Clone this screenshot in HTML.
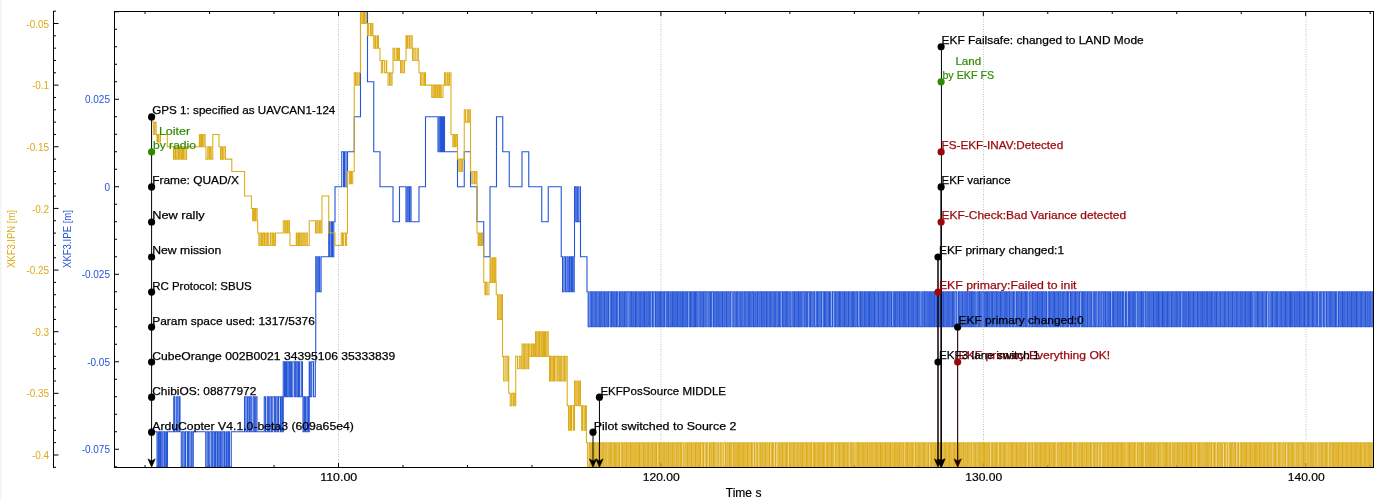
<!DOCTYPE html><html><head><meta charset="utf-8"><title>Graph</title>
<style>html,body{margin:0;padding:0;background:#fff;}body{width:1380px;height:500px;overflow:hidden;position:relative;font-family:"Liberation Sans","DejaVu Sans",sans-serif;}svg{position:absolute;left:0;top:0;display:block}text{font-family:"Liberation Sans","DejaVu Sans",sans-serif;}</style></head><body>
<svg width="1380" height="500" viewBox="0 0 1380 500">
<rect x="0" y="0" width="1380" height="500" fill="#ffffff"/>
<rect x="0" y="0" width="1.5" height="500" fill="#f3f3f3"/>
<defs><clipPath id="cp"><rect x="115.0" y="12.0" width="1258.0" height="455.0"/></clipPath></defs>
<line x1="338.5" y1="11.5" x2="338.5" y2="467.5" stroke="#b0b0b0" stroke-width="1" stroke-dasharray="0.8 1.7"/>
<line x1="661.0" y1="11.5" x2="661.0" y2="467.5" stroke="#b0b0b0" stroke-width="1" stroke-dasharray="0.8 1.7"/>
<line x1="983.5" y1="11.5" x2="983.5" y2="467.5" stroke="#b0b0b0" stroke-width="1" stroke-dasharray="0.8 1.7"/>
<line x1="1306.0" y1="11.5" x2="1306.0" y2="467.5" stroke="#b0b0b0" stroke-width="1" stroke-dasharray="0.8 1.7"/>
<g stroke="#000" stroke-width="1" fill="none">
<rect x="114.5" y="11.5" width="1259.0" height="456.0"/>
<line x1="53.5" y1="11.0" x2="53.5" y2="468.0"/>
<line x1="53.5" y1="467.31" x2="56.0" y2="467.31"/>
<line x1="53.5" y1="454.98" x2="58.5" y2="454.98"/>
<line x1="53.5" y1="442.65" x2="56.0" y2="442.65"/>
<line x1="53.5" y1="430.32" x2="56.0" y2="430.32"/>
<line x1="53.5" y1="418.00" x2="56.0" y2="418.00"/>
<line x1="53.5" y1="405.67" x2="56.0" y2="405.67"/>
<line x1="53.5" y1="393.34" x2="58.5" y2="393.34"/>
<line x1="53.5" y1="381.01" x2="56.0" y2="381.01"/>
<line x1="53.5" y1="368.68" x2="56.0" y2="368.68"/>
<line x1="53.5" y1="356.36" x2="56.0" y2="356.36"/>
<line x1="53.5" y1="344.03" x2="56.0" y2="344.03"/>
<line x1="53.5" y1="331.70" x2="58.5" y2="331.70"/>
<line x1="53.5" y1="319.37" x2="56.0" y2="319.37"/>
<line x1="53.5" y1="307.04" x2="56.0" y2="307.04"/>
<line x1="53.5" y1="294.72" x2="56.0" y2="294.72"/>
<line x1="53.5" y1="282.39" x2="56.0" y2="282.39"/>
<line x1="53.5" y1="270.06" x2="58.5" y2="270.06"/>
<line x1="53.5" y1="257.73" x2="56.0" y2="257.73"/>
<line x1="53.5" y1="245.40" x2="56.0" y2="245.40"/>
<line x1="53.5" y1="233.08" x2="56.0" y2="233.08"/>
<line x1="53.5" y1="220.75" x2="56.0" y2="220.75"/>
<line x1="53.5" y1="208.42" x2="58.5" y2="208.42"/>
<line x1="53.5" y1="196.09" x2="56.0" y2="196.09"/>
<line x1="53.5" y1="183.76" x2="56.0" y2="183.76"/>
<line x1="53.5" y1="171.44" x2="56.0" y2="171.44"/>
<line x1="53.5" y1="159.11" x2="56.0" y2="159.11"/>
<line x1="53.5" y1="146.78" x2="58.5" y2="146.78"/>
<line x1="53.5" y1="134.45" x2="56.0" y2="134.45"/>
<line x1="53.5" y1="122.12" x2="56.0" y2="122.12"/>
<line x1="53.5" y1="109.80" x2="56.0" y2="109.80"/>
<line x1="53.5" y1="97.47" x2="56.0" y2="97.47"/>
<line x1="53.5" y1="85.14" x2="58.5" y2="85.14"/>
<line x1="53.5" y1="72.81" x2="56.0" y2="72.81"/>
<line x1="53.5" y1="60.48" x2="56.0" y2="60.48"/>
<line x1="53.5" y1="48.16" x2="56.0" y2="48.16"/>
<line x1="53.5" y1="35.83" x2="56.0" y2="35.83"/>
<line x1="53.5" y1="23.50" x2="58.5" y2="23.50"/>
<line x1="53.5" y1="11.17" x2="56.0" y2="11.17"/>
<line x1="114.5" y1="466.75" x2="117.0" y2="466.75"/>
<line x1="114.5" y1="449.25" x2="119.0" y2="449.25"/>
<line x1="114.5" y1="431.75" x2="117.0" y2="431.75"/>
<line x1="114.5" y1="414.25" x2="117.0" y2="414.25"/>
<line x1="114.5" y1="396.75" x2="117.0" y2="396.75"/>
<line x1="114.5" y1="379.25" x2="117.0" y2="379.25"/>
<line x1="114.5" y1="361.75" x2="119.0" y2="361.75"/>
<line x1="114.5" y1="344.25" x2="117.0" y2="344.25"/>
<line x1="114.5" y1="326.75" x2="117.0" y2="326.75"/>
<line x1="114.5" y1="309.25" x2="117.0" y2="309.25"/>
<line x1="114.5" y1="291.75" x2="117.0" y2="291.75"/>
<line x1="114.5" y1="274.25" x2="119.0" y2="274.25"/>
<line x1="114.5" y1="256.75" x2="117.0" y2="256.75"/>
<line x1="114.5" y1="239.25" x2="117.0" y2="239.25"/>
<line x1="114.5" y1="221.75" x2="117.0" y2="221.75"/>
<line x1="114.5" y1="204.25" x2="117.0" y2="204.25"/>
<line x1="114.5" y1="186.75" x2="119.0" y2="186.75"/>
<line x1="114.5" y1="169.25" x2="117.0" y2="169.25"/>
<line x1="114.5" y1="151.75" x2="117.0" y2="151.75"/>
<line x1="114.5" y1="134.25" x2="117.0" y2="134.25"/>
<line x1="114.5" y1="116.75" x2="117.0" y2="116.75"/>
<line x1="114.5" y1="99.25" x2="119.0" y2="99.25"/>
<line x1="114.5" y1="81.75" x2="117.0" y2="81.75"/>
<line x1="114.5" y1="64.25" x2="117.0" y2="64.25"/>
<line x1="114.5" y1="46.75" x2="117.0" y2="46.75"/>
<line x1="114.5" y1="29.25" x2="117.0" y2="29.25"/>
<line x1="114.5" y1="11.75" x2="119.0" y2="11.75"/>
<line x1="145.06" y1="467.5" x2="145.06" y2="465.0"/>
<line x1="145.06" y1="11.5" x2="145.06" y2="14.0"/>
<line x1="209.54" y1="467.5" x2="209.54" y2="465.0"/>
<line x1="209.54" y1="11.5" x2="209.54" y2="14.0"/>
<line x1="274.02" y1="467.5" x2="274.02" y2="465.0"/>
<line x1="274.02" y1="11.5" x2="274.02" y2="14.0"/>
<line x1="338.50" y1="467.5" x2="338.50" y2="463.0"/>
<line x1="338.50" y1="11.5" x2="338.50" y2="16.0"/>
<line x1="402.98" y1="467.5" x2="402.98" y2="465.0"/>
<line x1="402.98" y1="11.5" x2="402.98" y2="14.0"/>
<line x1="467.46" y1="467.5" x2="467.46" y2="465.0"/>
<line x1="467.46" y1="11.5" x2="467.46" y2="14.0"/>
<line x1="531.94" y1="467.5" x2="531.94" y2="465.0"/>
<line x1="531.94" y1="11.5" x2="531.94" y2="14.0"/>
<line x1="596.42" y1="467.5" x2="596.42" y2="465.0"/>
<line x1="596.42" y1="11.5" x2="596.42" y2="14.0"/>
<line x1="660.90" y1="467.5" x2="660.90" y2="463.0"/>
<line x1="660.90" y1="11.5" x2="660.90" y2="16.0"/>
<line x1="725.38" y1="467.5" x2="725.38" y2="465.0"/>
<line x1="725.38" y1="11.5" x2="725.38" y2="14.0"/>
<line x1="789.86" y1="467.5" x2="789.86" y2="465.0"/>
<line x1="789.86" y1="11.5" x2="789.86" y2="14.0"/>
<line x1="854.34" y1="467.5" x2="854.34" y2="465.0"/>
<line x1="854.34" y1="11.5" x2="854.34" y2="14.0"/>
<line x1="918.82" y1="467.5" x2="918.82" y2="465.0"/>
<line x1="918.82" y1="11.5" x2="918.82" y2="14.0"/>
<line x1="983.30" y1="467.5" x2="983.30" y2="463.0"/>
<line x1="983.30" y1="11.5" x2="983.30" y2="16.0"/>
<line x1="1047.78" y1="467.5" x2="1047.78" y2="465.0"/>
<line x1="1047.78" y1="11.5" x2="1047.78" y2="14.0"/>
<line x1="1112.26" y1="467.5" x2="1112.26" y2="465.0"/>
<line x1="1112.26" y1="11.5" x2="1112.26" y2="14.0"/>
<line x1="1176.74" y1="467.5" x2="1176.74" y2="465.0"/>
<line x1="1176.74" y1="11.5" x2="1176.74" y2="14.0"/>
<line x1="1241.22" y1="467.5" x2="1241.22" y2="465.0"/>
<line x1="1241.22" y1="11.5" x2="1241.22" y2="14.0"/>
<line x1="1305.70" y1="467.5" x2="1305.70" y2="463.0"/>
<line x1="1305.70" y1="11.5" x2="1305.70" y2="16.0"/>
<line x1="1370.18" y1="467.5" x2="1370.18" y2="465.0"/>
<line x1="1370.18" y1="11.5" x2="1370.18" y2="14.0"/>
</g>
<g clip-path="url(#cp)" fill="none" stroke-linejoin="miter" stroke-width="1.1">
<rect x="587.3" y="291.75" width="800" height="35.00" fill="#2454d7" stroke="none" opacity="0.2"/>
<rect x="586.8" y="442.65" width="800" height="24.66" fill="#dcab16" stroke="none" opacity="0.2"/>
<path d="M152.00 431.75H157.00V466.75H158.29V431.75H159.29V466.75H160.44V431.75H161.73V466.75H163.02V431.75H164.47V466.75H165.76V431.75H166.76V466.75H167.50V431.75H173.75V396.75H174.90V431.75H176.70V396.75H177.99V431.75H179.44V396.75H180.00V431.75H181.29V466.75H182.74V431.75H184.19V466.75H185.48V431.75H187.28V466.75H188.43V431.75H189.88V466.75H191.33V431.75H192.78V466.75H193.25V431.75H205.75V466.75H207.20V431.75H208.65V466.75H209.94V431.75H211.74V466.75H212.89V431.75H214.34V466.75H215.49V431.75H216.94V466.75H217.94V431.75H219.23V466.75H220.52V431.75H221.81V466.75H223.10V431.75H224.55V466.75H226.00V431.75H227.00V466.75H228.29V431.75H229.44V466.75H231.24V431.75H232.00H244.50V396.75H245.95V431.75H247.40V396.75H248.85V431.75H250.00V396.75H251.29V431.75H253.09V396.75H254.38V431.75H255.67V396.75H256.96V431.75H257.50H264.25V396.75H265.54V431.75H267.34V396.75H268.63V431.75H269.92V396.75H271.37V431.75H272.82V396.75H274.62V431.75H275.77V396.75H277.22V431.75H278.51V396.75H280.31V431.75H281.31V396.75H282.60V431.75H283.25V361.75H284.54V396.75H285.54V361.75H286.54V396.75H287.83V361.75H289.12V396.75H290.27V361.75H291.42V396.75H292.87V361.75H294.67V396.75H295.82V361.75H297.11V396.75H298.40V361.75H299.40V396.75H301.20V361.75H302.49V396.75H303.00V431.75H304.29V396.75H305.44V431.75H306.89V396.75H308.18V431.75H309.25V361.75H310.25V396.75H311.70V361.75H313.50V396.75H315.30V361.75H315.75V256.75H317.04V291.75H318.33V256.75H319.62V291.75H321.07V256.75H322.00H328.75V221.75H329.90V256.75H331.35V221.75H332.50V256.75H333.79V221.75H335.00V186.75H341.75V151.75H343.55V186.75H344.55V151.75H346.00V186.75H347.50V151.75H354.25V116.75H360.50V-23.25H367.50V81.75H373.75V151.75H380.00V186.75H393.00V221.75H399.50V186.75H406.00V221.75H407.29V186.75H408.74V221.75H409.74V186.75H411.03V221.75H412.50H419.00V186.75H425.50V116.75H438.00V151.75H439.29V116.75H440.58V151.75H441.58V116.75H442.58V151.75H443.58V116.75H444.50V151.75H457.50V186.75H464.25V151.75H470.50V186.75H477.00V221.75H483.75V256.75H490.00V186.75H496.50V116.75H502.75V151.75H509.25V186.75H522.00V151.75H528.75V186.75H541.75V221.75H548.25V186.75H561.25V256.75H562.54V291.75H563.99V256.75H565.44V291.75H566.89V256.75H568.18V291.75H569.47V256.75H570.76V291.75H571.76V256.75H572.91V291.75H574.20V256.75H574.50V186.75H575.79V221.75H577.08V186.75H578.23V221.75H580.03V186.75H580.50V256.75H587.00V291.75H588.28V326.75H590.04V291.75H591.38V326.75H592.69V291.75H594.03V326.75H595.35V291.75H596.69V326.75H598.06V291.75H599.37V326.75H600.66V291.75H601.90V326.75H603.22V291.75H604.54V326.75H605.88V291.75H607.15V326.75H608.41V291.75H610.12V326.75H611.47V291.75H612.73V326.75H613.95V291.75H615.22V326.75H616.51V291.75H617.81V326.75H619.46V291.75H620.71V326.75H622.02V291.75H623.26V326.75H624.59V291.75H625.87V326.75H627.17V291.75H628.94V326.75H630.29V291.75H631.61V326.75H632.90V291.75H634.12V326.75H635.44V291.75H636.66V326.75H638.01V291.75H639.31V326.75H640.66V291.75H641.91V326.75H643.22V291.75H644.45V326.75H645.77V291.75H647.03V326.75H648.31V291.75H649.63V326.75H650.89V291.75H652.51V326.75H653.84V291.75H655.58V326.75H656.86V291.75H658.10V326.75H659.37V291.75H660.60V326.75H661.86V291.75H663.16V326.75H664.42V291.75H666.07V326.75H667.32V291.75H668.61V326.75H669.98V291.75H671.24V326.75H672.53V291.75H673.77V326.75H675.00V291.75H676.23V326.75H677.50V291.75H678.78V326.75H680.05V291.75H681.27V326.75H682.55V291.75H683.77V326.75H685.07V291.75H686.30V326.75H687.62V291.75H689.25V326.75H690.56V291.75H691.80V326.75H693.15V291.75H694.37V326.75H695.58V291.75H696.82V326.75H698.14V291.75H699.78V326.75H700.99V291.75H702.30V326.75H703.59V291.75H704.93V326.75H706.20V291.75H707.88V326.75H709.20V291.75H710.57V326.75H711.80V291.75H713.50V326.75H714.79V291.75H716.10V326.75H717.31V291.75H718.68V326.75H719.92V291.75H721.21V326.75H722.51V291.75H723.84V326.75H725.10V291.75H726.43V326.75H727.76V291.75H729.06V326.75H730.37V291.75H732.13V326.75H733.74V291.75H735.10V326.75H736.40V291.75H737.66V326.75H739.03V291.75H740.34V326.75H741.70V291.75H742.98V326.75H744.35V291.75H745.71V326.75H747.05V291.75H748.38V326.75H749.64V291.75H750.90V326.75H752.21V291.75H753.55V326.75H754.90V291.75H756.11V326.75H757.45V291.75H758.82V326.75H760.09V291.75H761.42V326.75H762.71V291.75H763.97V326.75H765.20V291.75H766.53V326.75H767.79V291.75H769.14V326.75H770.38V291.75H771.71V326.75H773.05V291.75H774.34V326.75H775.63V291.75H776.97V326.75H778.33V291.75H779.55V326.75H780.88V291.75H782.58V326.75H783.85V291.75H785.15V326.75H786.37V291.75H787.66V326.75H789.01V291.75H790.30V326.75H791.94V291.75H793.28V326.75H794.58V291.75H795.92V326.75H797.17V291.75H798.45V326.75H799.72V291.75H800.95V326.75H802.16V291.75H803.87V326.75H805.11V291.75H806.41V326.75H807.66V291.75H809.31V326.75H810.59V291.75H811.90V326.75H813.25V291.75H814.61V326.75H816.23V291.75H817.50V326.75H818.79V291.75H820.14V326.75H821.45V291.75H823.17V326.75H824.44V291.75H825.66V326.75H826.95V291.75H828.30V326.75H829.54V291.75H830.78V326.75H832.54V291.75H834.24V326.75H835.60V291.75H836.89V326.75H838.22V291.75H839.45V326.75H840.66V291.75H841.99V326.75H843.27V291.75H844.55V326.75H845.83V291.75H847.10V326.75H848.44V291.75H849.79V326.75H851.15V291.75H852.38V326.75H853.60V291.75H854.87V326.75H856.21V291.75H857.57V326.75H859.18V291.75H860.55V326.75H861.79V291.75H863.06V326.75H864.39V291.75H865.67V326.75H866.95V291.75H868.23V326.75H869.44V291.75H870.70V326.75H871.95V291.75H873.23V326.75H874.47V291.75H875.78V326.75H877.14V291.75H878.48V326.75H879.81V291.75H881.09V326.75H882.34V291.75H883.61V326.75H884.85V291.75H886.21V326.75H887.53V291.75H888.82V326.75H890.10V291.75H891.46V326.75H893.13V291.75H894.40V326.75H895.64V291.75H896.94V326.75H898.17V291.75H899.52V326.75H900.84V291.75H902.08V326.75H903.40V291.75H904.64V326.75H905.85V291.75H907.14V326.75H908.50V291.75H909.77V326.75H911.08V291.75H912.30V326.75H913.63V291.75H914.95V326.75H916.25V291.75H917.47V326.75H918.77V291.75H920.04V326.75H921.80V291.75H923.07V326.75H924.41V291.75H925.75V326.75H927.05V291.75H928.30V326.75H929.63V291.75H930.85V326.75H932.08V291.75H933.30V326.75H934.54V291.75H935.84V326.75H937.05V291.75H938.38V326.75H939.72V291.75H941.01V326.75H942.29V291.75H943.51V326.75H944.77V291.75H946.07V326.75H947.30V291.75H948.65V326.75H949.90V291.75H951.21V326.75H952.49V291.75H953.70V326.75H955.02V291.75H956.73V326.75H958.49V291.75H959.76V326.75H961.10V291.75H962.45V326.75H963.82V291.75H965.09V326.75H966.35V291.75H967.67V326.75H969.02V291.75H970.23V326.75H971.47V291.75H972.71V326.75H973.96V291.75H975.23V326.75H976.92V291.75H978.28V326.75H979.50V291.75H980.81V326.75H982.12V291.75H983.86V326.75H985.08V291.75H986.30V326.75H987.51V291.75H988.78V326.75H990.00V291.75H991.36V326.75H992.58V291.75H993.94V326.75H995.23V291.75H996.59V326.75H997.84V291.75H999.17V326.75H1000.45V291.75H1001.70V326.75H1002.99V291.75H1004.35V326.75H1005.63V291.75H1006.85V326.75H1008.09V291.75H1009.45V326.75H1010.81V291.75H1012.17V326.75H1013.44V291.75H1014.79V326.75H1016.41V291.75H1017.70V326.75H1018.97V291.75H1020.26V326.75H1021.53V291.75H1022.82V326.75H1024.14V291.75H1025.42V326.75H1026.65V291.75H1027.96V326.75H1029.70V291.75H1031.05V326.75H1032.42V291.75H1033.73V326.75H1035.05V291.75H1036.28V326.75H1037.58V291.75H1038.85V326.75H1040.08V291.75H1041.34V326.75H1042.57V291.75H1043.89V326.75H1045.15V291.75H1046.45V326.75H1048.16V291.75H1049.49V326.75H1050.76V291.75H1052.06V326.75H1053.34V291.75H1054.58V326.75H1055.85V291.75H1057.15V326.75H1058.42V291.75H1059.77V326.75H1060.98V291.75H1062.34V326.75H1063.63V291.75H1064.94V326.75H1066.28V291.75H1067.56V326.75H1068.78V291.75H1070.46V326.75H1071.68V291.75H1072.96V326.75H1074.27V291.75H1075.51V326.75H1076.78V291.75H1078.12V326.75H1079.42V291.75H1081.15V326.75H1082.42V291.75H1083.64V326.75H1084.88V291.75H1086.14V326.75H1087.50V291.75H1088.86V326.75H1090.15V291.75H1091.40V326.75H1093.07V291.75H1094.37V326.75H1095.68V291.75H1097.00V326.75H1098.61V291.75H1099.94V326.75H1101.29V291.75H1102.92V326.75H1104.13V291.75H1105.47V326.75H1106.82V291.75H1108.11V326.75H1109.35V291.75H1110.58V326.75H1112.28V291.75H1113.50V326.75H1114.79V291.75H1116.06V326.75H1117.38V291.75H1118.68V326.75H1119.93V291.75H1121.14V326.75H1122.49V291.75H1123.71V326.75H1125.42V291.75H1126.67V326.75H1128.40V291.75H1129.62V326.75H1130.86V291.75H1132.17V326.75H1133.38V291.75H1134.66V326.75H1135.91V291.75H1137.68V326.75H1139.00V291.75H1140.30V326.75H1141.57V291.75H1142.79V326.75H1144.01V291.75H1145.68V326.75H1147.03V291.75H1148.30V326.75H1149.65V291.75H1150.97V326.75H1152.24V291.75H1153.54V326.75H1154.83V291.75H1156.11V326.75H1157.32V291.75H1158.57V326.75H1159.81V291.75H1161.15V326.75H1162.43V291.75H1163.68V326.75H1164.92V291.75H1166.23V326.75H1167.49V291.75H1168.74V326.75H1170.05V291.75H1171.42V326.75H1172.70V291.75H1174.00V326.75H1175.29V291.75H1176.62V326.75H1177.85V291.75H1179.17V326.75H1180.39V291.75H1182.02V326.75H1183.34V291.75H1184.68V326.75H1185.92V291.75H1187.14V326.75H1188.48V291.75H1189.72V326.75H1190.94V291.75H1192.28V326.75H1193.55V291.75H1194.84V326.75H1196.15V291.75H1197.51V326.75H1198.77V291.75H1200.09V326.75H1201.31V291.75H1202.59V326.75H1203.87V291.75H1205.09V326.75H1206.35V291.75H1207.59V326.75H1208.87V291.75H1210.14V326.75H1211.38V291.75H1212.68V326.75H1214.04V291.75H1215.29V326.75H1216.58V291.75H1217.90V326.75H1219.26V291.75H1220.59V326.75H1221.94V291.75H1223.25V326.75H1224.61V291.75H1225.83V326.75H1227.16V291.75H1228.52V326.75H1229.85V291.75H1231.16V326.75H1232.45V291.75H1233.81V326.75H1235.08V291.75H1236.40V326.75H1237.71V291.75H1239.02V326.75H1240.34V291.75H1241.68V326.75H1242.92V291.75H1244.26V326.75H1245.50V291.75H1246.83V326.75H1248.08V291.75H1249.32V326.75H1250.55V291.75H1251.78V326.75H1253.07V291.75H1254.79V326.75H1256.11V291.75H1257.42V326.75H1258.65V291.75H1259.96V326.75H1261.27V291.75H1262.55V326.75H1263.86V291.75H1265.23V326.75H1266.51V291.75H1268.23V326.75H1269.91V291.75H1271.27V326.75H1272.49V291.75H1273.86V326.75H1275.14V291.75H1276.40V326.75H1277.61V291.75H1278.98V326.75H1280.31V291.75H1281.64V326.75H1282.95V291.75H1284.24V326.75H1285.50V291.75H1286.73V326.75H1288.03V291.75H1289.36V326.75H1290.58V291.75H1291.79V326.75H1293.03V291.75H1294.39V326.75H1295.74V291.75H1296.97V326.75H1298.23V291.75H1299.50V326.75H1300.77V291.75H1302.00V326.75H1303.34V291.75H1304.56V326.75H1305.90V291.75H1307.27V326.75H1308.49V291.75H1309.77V326.75H1311.13V291.75H1312.44V326.75H1313.69V291.75H1315.00V326.75H1316.37V291.75H1317.66V326.75H1319.33V291.75H1320.63V326.75H1321.93V291.75H1323.55V326.75H1324.87V291.75H1326.49V326.75H1327.85V291.75H1329.18V326.75H1330.39V291.75H1331.71V326.75H1332.99V291.75H1334.29V326.75H1335.58V291.75H1336.82V326.75H1338.52V291.75H1339.86V326.75H1341.13V291.75H1342.43V326.75H1343.70V291.75H1344.93V326.75H1346.22V291.75H1347.57V326.75H1348.90V291.75H1350.13V326.75H1351.43V291.75H1352.70V326.75H1353.98V291.75H1355.22V326.75H1356.47V291.75H1357.71V326.75H1359.03V291.75H1360.34V326.75H1361.59V291.75H1362.89V326.75H1364.21V291.75H1365.51V326.75H1366.83V291.75H1368.06V326.75H1369.36V291.75H1370.72V326.75H1372.08V291.75H1373.36V326.75H1374.00" stroke="#2454d7"/>
<path d="M152.40 122.12H153.69V134.45H154.84V122.12H156.13V134.45H157.00V141.85H158.00V134.45H159.00V141.85H160.50V134.45H167.30V146.78H173.50V159.11H174.79V146.78H175.79V159.11H177.08V146.78H178.37V159.11H179.37V146.78H180.66V159.11H181.81V146.78H182.81V159.11H183.81V146.78H185.10V159.11H186.60V146.78H199.40V134.45H200.40V146.78H201.55V134.45H202.55V146.78H203.84V134.45H205.13V146.78H206.00V159.11H207.80V146.78H209.09V159.11H210.09V146.78H211.24V159.11H212.80V134.45H219.00V146.78H220.45V159.11H221.74V146.78H222.74V159.11H224.03V146.78H225.50V159.11H231.80V171.44H244.60V196.09H251.40V208.42H252.69V220.75H253.69V208.42H254.84V220.75H255.84V208.42H257.13V220.75H257.70V233.08H258.85V245.40H260.14V233.08H261.43V245.40H262.58V233.08H263.87V245.40H264.87V233.08H266.16V245.40H267.45V233.08H268.74V245.40H270.54V233.08H271.99V245.40H273.14V233.08H274.14V245.40H275.43V233.08H277.00H283.25V220.75H284.70V233.08H285.85V220.75H287.14V233.08H288.14V220.75H289.43V233.08H290.00V245.40H296.25V233.08H297.25V245.40H298.54V233.08H299.54V245.40H300.83V233.08H301.98V245.40H303.27V233.08H304.72V245.40H306.01V233.08H307.30V245.40H309.25V220.75H315.50V233.08H316.79V220.75H318.08V233.08H319.37V220.75H320.66V233.08H322.00V196.09H328.75V233.08H335.00V245.40H341.25V233.08H342.54V245.40H343.69V233.08H345.49V245.40H346.64V233.08H347.50V171.44H349.30V183.76H350.45V171.44H351.45V183.76H352.74V171.44H354.25V72.81H355.54V85.14H356.83V72.81H358.12V85.14H359.57V72.81H360.50V-1.16H361.79V23.50H363.08V-1.16H364.08V23.50H365.08V-1.16H366.37V23.50H367.50V35.83H368.65V23.50H370.45V35.83H371.74V23.50H372.89V35.83H373.75V48.16H375.04V35.83H376.04V48.16H377.49V35.83H378.49V48.16H380.00V60.48H381.29V72.81H382.58V60.48H384.38V72.81H386.18V60.48H386.75V72.81H388.04V85.14H389.49V72.81H390.78V85.14H392.07V72.81H393.00V48.16H394.29V60.48H396.09V48.16H397.38V60.48H398.38V48.16H399.50V60.48H400.50V72.81H401.79V60.48H403.08V72.81H404.53V60.48H406.00V35.83H407.00V48.16H408.00V35.83H409.45V48.16H410.90V35.83H412.19V48.16H412.50V60.48H413.79V48.16H415.24V60.48H417.04V48.16H418.33V60.48H419.00V72.81H420.45V85.14H421.74V72.81H423.19V85.14H424.48V72.81H425.50V85.14H431.75V97.47H433.04V85.14H434.33V97.47H435.48V85.14H436.77V97.47H437.77V85.14H439.06V97.47H440.06V85.14H441.21V97.47H443.01V85.14H444.50V72.81H445.65V85.14H447.10V72.81H448.25V85.14H449.54V72.81H451.00V134.45H452.80V146.78H454.09V134.45H455.09V146.78H456.24V134.45H457.50V159.11H458.79V171.44H460.08V159.11H461.37V171.44H462.52V159.11H464.25V109.80H465.54V122.12H467.34V109.80H468.63V122.12H469.92V109.80H470.50V171.44H471.79V183.76H473.08V171.44H474.53V183.76H475.82V171.44H477.00V233.08H478.15V245.40H479.15V233.08H480.30V245.40H481.45V233.08H482.60V245.40H483.75V282.39H484.90V294.72H485.90V282.39H487.19V294.72H488.99V282.39H490.00V257.73H491.15V282.39H492.44V257.73H493.73V282.39H494.73V257.73H495.88V282.39H496.25V294.72H497.54V319.37H498.83V294.72H500.12V319.37H501.41V294.72H502.50V356.36H503.65V381.01H505.10V356.36H506.90V381.01H508.19V356.36H508.75V393.34H510.20V405.67H511.65V393.34H513.10V405.67H514.10V393.34H515.39V405.67H515.75V356.36H517.55V368.68H519.35V356.36H520.80V368.68H522.00V344.03H523.29V368.68H524.58V344.03H525.87V368.68H527.16V344.03H528.45V368.68H528.75V344.03H530.04V356.36H531.49V344.03H532.78V356.36H533.78V344.03H534.93V356.36H535.50V331.70H536.65V356.36H537.94V331.70H539.09V356.36H540.09V331.70H541.38V356.36H542.67V331.70H543.67V356.36H544.67V331.70H545.67V356.36H546.96V331.70H548.25V356.36H549.54V381.01H550.54V356.36H551.83V381.01H553.12V356.36H554.12V381.01H555.12V356.36H556.92V381.01H558.07V356.36H559.36V381.01H560.65V356.36H561.80V381.01H563.25V356.36H564.54V381.01H565.83V356.36H567.20V405.67H568.49V430.32H569.78V405.67H570.78V430.32H571.78V405.67H573.58V430.32H574.50V381.01H575.79V405.67H577.08V381.01H578.37V405.67H579.66V381.01H580.50V405.67H581.65V430.32H582.65V405.67H584.10V430.32H585.39V405.67H586.40V442.65H587.65V467.31H589.29V442.65H590.65V467.31H591.88V442.65H593.10V467.31H594.46V442.65H595.79V467.31H597.05V442.65H598.39V467.31H599.72V442.65H600.97V467.31H602.34V442.65H603.68V467.31H605.00V442.65H606.30V467.31H607.91V442.65H609.17V467.31H610.49V442.65H611.77V467.31H613.14V442.65H614.40V467.31H615.65V442.65H616.89V467.31H618.25V442.65H619.53V467.31H621.27V442.65H622.59V467.31H623.92V442.65H625.21V467.31H626.55V442.65H627.88V467.31H629.16V442.65H630.52V467.31H631.76V442.65H632.99V467.31H634.33V442.65H635.67V467.31H636.99V442.65H638.28V467.31H639.50V442.65H640.81V467.31H642.17V442.65H643.52V467.31H644.76V442.65H646.02V467.31H647.32V442.65H648.60V467.31H649.96V442.65H651.24V467.31H652.59V442.65H653.95V467.31H655.25V442.65H656.46V467.31H658.10V442.65H659.44V467.31H660.72V442.65H662.02V467.31H663.31V442.65H664.65V467.31H665.95V442.65H667.20V467.31H668.50V442.65H669.83V467.31H671.11V442.65H672.40V467.31H673.72V442.65H675.01V467.31H676.38V442.65H677.73V467.31H678.98V442.65H680.34V467.31H681.57V442.65H683.25V467.31H684.90V442.65H686.22V467.31H687.57V442.65H688.89V467.31H690.13V442.65H691.49V467.31H692.85V442.65H694.14V467.31H695.49V442.65H696.76V467.31H698.03V442.65H699.29V467.31H700.50V442.65H702.18V467.31H703.45V442.65H705.14V467.31H706.51V442.65H707.87V467.31H709.52V442.65H710.86V467.31H712.09V442.65H713.45V467.31H714.70V442.65H716.05V467.31H717.78V442.65H718.99V467.31H720.67V442.65H722.03V467.31H723.77V442.65H725.52V467.31H726.87V442.65H728.13V467.31H729.49V442.65H730.72V467.31H731.97V442.65H733.60V467.31H734.85V442.65H736.10V467.31H737.36V442.65H738.60V467.31H739.81V442.65H741.02V467.31H742.32V442.65H743.61V467.31H744.84V442.65H746.12V467.31H747.46V442.65H748.75V467.31H750.12V442.65H751.46V467.31H752.77V442.65H754.44V467.31H756.07V442.65H757.40V467.31H759.03V442.65H760.38V467.31H761.69V442.65H762.94V467.31H764.23V442.65H765.51V467.31H766.87V442.65H768.17V467.31H769.53V442.65H771.20V467.31H772.47V442.65H773.76V467.31H775.45V442.65H777.11V467.31H778.78V442.65H779.99V467.31H781.24V442.65H782.54V467.31H783.85V442.65H785.20V467.31H786.46V442.65H787.70V467.31H789.41V442.65H790.75V467.31H792.06V442.65H793.40V467.31H794.70V442.65H796.04V467.31H797.38V442.65H798.74V467.31H800.06V442.65H801.27V467.31H802.54V442.65H803.88V467.31H805.19V442.65H806.51V467.31H807.72V442.65H809.05V467.31H810.35V442.65H811.57V467.31H813.22V442.65H814.47V467.31H815.72V442.65H817.08V467.31H818.35V442.65H819.67V467.31H820.98V442.65H822.20V467.31H823.45V442.65H824.71V467.31H826.32V442.65H827.58V467.31H828.90V442.65H830.16V467.31H831.44V442.65H832.67V467.31H833.91V442.65H835.67V467.31H836.95V442.65H838.32V467.31H839.57V442.65H840.93V467.31H842.24V442.65H843.53V467.31H844.76V442.65H846.05V467.31H847.37V442.65H848.73V467.31H850.34V442.65H851.63V467.31H852.89V442.65H854.15V467.31H855.90V442.65H857.23V467.31H858.46V442.65H859.78V467.31H861.04V442.65H862.31V467.31H863.62V442.65H864.89V467.31H866.11V442.65H867.46V467.31H868.82V442.65H870.07V467.31H871.31V442.65H872.67V467.31H874.01V442.65H875.37V467.31H876.66V442.65H877.88V467.31H879.16V442.65H880.48V467.31H881.70V442.65H882.93V467.31H884.19V442.65H885.52V467.31H886.77V442.65H888.03V467.31H889.30V442.65H890.54V467.31H891.89V442.65H893.14V467.31H894.51V442.65H895.74V467.31H896.96V442.65H898.19V467.31H899.44V442.65H900.79V467.31H902.07V442.65H903.36V467.31H905.03V442.65H906.28V467.31H907.51V442.65H908.82V467.31H910.07V442.65H911.32V467.31H912.60V442.65H913.94V467.31H915.56V442.65H916.88V467.31H918.17V442.65H919.38V467.31H920.73V442.65H922.08V467.31H923.33V442.65H924.57V467.31H925.88V442.65H927.21V467.31H928.54V442.65H930.24V467.31H931.58V442.65H932.93V467.31H934.19V442.65H935.44V467.31H936.76V442.65H937.99V467.31H939.29V442.65H940.53V467.31H941.75V442.65H943.03V467.31H944.34V442.65H945.63V467.31H946.88V442.65H948.20V467.31H949.41V442.65H950.73V467.31H951.98V442.65H953.34V467.31H954.56V442.65H955.83V467.31H957.08V442.65H958.40V467.31H959.65V442.65H960.91V467.31H962.15V442.65H963.49V467.31H964.85V442.65H966.09V467.31H967.36V442.65H968.73V467.31H970.00V442.65H971.37V467.31H972.98V442.65H974.26V467.31H975.61V442.65H976.98V467.31H978.24V442.65H979.60V467.31H980.81V442.65H982.09V467.31H983.35V442.65H984.56V467.31H985.83V442.65H987.06V467.31H988.30V442.65H989.64V467.31H991.32V442.65H992.60V467.31H993.96V442.65H995.23V467.31H996.44V442.65H997.78V467.31H999.40V442.65H1000.62V467.31H1001.87V442.65H1003.23V467.31H1004.48V442.65H1005.79V467.31H1007.11V442.65H1008.77V467.31H1010.10V442.65H1011.41V467.31H1012.62V442.65H1013.91V467.31H1015.27V442.65H1016.52V467.31H1017.81V442.65H1019.05V467.31H1020.38V442.65H1021.71V467.31H1022.97V442.65H1024.24V467.31H1025.47V442.65H1026.80V467.31H1028.42V442.65H1029.71V467.31H1031.08V442.65H1032.45V467.31H1034.07V442.65H1035.36V467.31H1036.64V442.65H1037.92V467.31H1039.24V442.65H1040.58V467.31H1041.81V442.65H1043.07V467.31H1044.34V442.65H1045.58V467.31H1046.83V442.65H1048.18V467.31H1049.45V442.65H1050.81V467.31H1052.06V442.65H1053.38V467.31H1054.60V442.65H1055.94V467.31H1057.70V442.65H1058.96V467.31H1060.20V442.65H1061.50V467.31H1062.77V442.65H1064.05V467.31H1065.39V442.65H1066.61V467.31H1067.92V442.65H1069.19V467.31H1070.43V442.65H1071.74V467.31H1073.38V442.65H1074.64V467.31H1075.88V442.65H1077.13V467.31H1078.82V442.65H1080.05V467.31H1081.35V442.65H1082.57V467.31H1083.89V442.65H1085.15V467.31H1086.51V442.65H1087.81V467.31H1089.09V442.65H1090.46V467.31H1091.70V442.65H1093.34V467.31H1094.70V442.65H1096.04V467.31H1097.39V442.65H1099.03V467.31H1100.32V442.65H1102.08V467.31H1103.39V442.65H1104.68V467.31H1105.94V442.65H1107.29V467.31H1108.58V442.65H1109.95V467.31H1111.18V442.65H1112.54V467.31H1113.76V442.65H1115.03V467.31H1116.34V442.65H1117.58V467.31H1118.82V442.65H1120.17V467.31H1121.41V442.65H1122.68V467.31H1123.95V442.65H1125.20V467.31H1126.96V442.65H1128.26V467.31H1129.47V442.65H1130.70V467.31H1132.00V442.65H1133.26V467.31H1134.56V442.65H1135.88V467.31H1137.56V442.65H1138.87V467.31H1140.11V442.65H1141.45V467.31H1142.69V442.65H1143.91V467.31H1145.59V442.65H1146.87V467.31H1148.09V442.65H1149.31V467.31H1150.65V442.65H1151.87V467.31H1153.14V442.65H1154.37V467.31H1155.74V442.65H1157.08V467.31H1158.45V442.65H1159.81V467.31H1161.05V442.65H1162.80V467.31H1164.07V442.65H1165.31V467.31H1166.56V442.65H1167.79V467.31H1169.15V442.65H1170.40V467.31H1172.06V442.65H1173.30V467.31H1174.66V442.65H1176.02V467.31H1177.35V442.65H1178.65V467.31H1179.91V442.65H1181.21V467.31H1182.56V442.65H1183.93V467.31H1185.21V442.65H1186.46V467.31H1187.76V442.65H1189.09V467.31H1190.33V442.65H1191.55V467.31H1192.80V442.65H1194.17V467.31H1195.48V442.65H1197.09V467.31H1198.33V442.65H1199.61V467.31H1200.96V442.65H1202.21V467.31H1203.82V442.65H1205.09V467.31H1206.35V442.65H1207.66V467.31H1208.90V442.65H1210.19V467.31H1211.55V442.65H1213.18V467.31H1214.49V442.65H1215.83V467.31H1217.48V442.65H1218.79V467.31H1220.06V442.65H1221.34V467.31H1222.67V442.65H1224.42V467.31H1225.72V442.65H1227.36V467.31H1229.10V442.65H1230.40V467.31H1231.63V442.65H1232.94V467.31H1234.25V442.65H1235.49V467.31H1237.15V442.65H1238.50V467.31H1240.22V442.65H1241.57V467.31H1242.85V442.65H1244.13V467.31H1245.36V442.65H1246.58V467.31H1247.91V442.65H1249.25V467.31H1250.51V442.65H1251.78V467.31H1253.08V442.65H1254.39V467.31H1255.64V442.65H1256.85V467.31H1258.10V442.65H1259.46V467.31H1260.72V442.65H1261.98V467.31H1263.34V442.65H1264.66V467.31H1266.03V442.65H1267.37V467.31H1268.72V442.65H1270.04V467.31H1271.30V442.65H1273.01V467.31H1274.37V442.65H1275.58V467.31H1276.94V442.65H1278.57V467.31H1279.79V442.65H1281.10V467.31H1282.83V442.65H1284.13V467.31H1285.47V442.65H1287.23V467.31H1288.58V442.65H1289.94V467.31H1291.18V442.65H1292.40V467.31H1293.73V442.65H1295.08V467.31H1296.73V442.65H1297.96V467.31H1299.20V442.65H1300.88V467.31H1302.13V442.65H1303.45V467.31H1304.72V442.65H1306.01V467.31H1307.72V442.65H1308.99V467.31H1310.33V442.65H1311.65V467.31H1312.89V442.65H1314.12V467.31H1315.75V442.65H1317.00V467.31H1318.76V442.65H1320.05V467.31H1321.39V442.65H1322.68V467.31H1324.02V442.65H1325.38V467.31H1326.63V442.65H1327.92V467.31H1329.63V442.65H1330.96V467.31H1332.30V442.65H1333.57V467.31H1334.84V442.65H1336.06V467.31H1337.28V442.65H1338.53V467.31H1339.82V442.65H1341.17V467.31H1342.46V442.65H1343.79V467.31H1345.10V442.65H1346.36V467.31H1347.71V442.65H1349.04V467.31H1350.32V442.65H1351.62V467.31H1352.90V442.65H1354.15V467.31H1355.41V442.65H1356.75V467.31H1357.99V442.65H1359.25V467.31H1360.49V442.65H1361.73V467.31H1363.05V442.65H1364.42V467.31H1365.69V442.65H1367.03V467.31H1368.31V442.65H1369.62V467.31H1370.86V442.65H1372.08V467.31H1373.41V442.65H1374.00" stroke="#dcab16" stroke-width="1.05"/>
</g>
<g>
<line x1="151.60" y1="116.90" x2="151.60" y2="464.5" stroke="#000" stroke-width="1.00"/><path d="M151.60 467.2 L148.00 458.9 L151.60 460.9 L155.20 458.9 Z" fill="#000" stroke="#000" stroke-width="0.6"/><line x1="593.00" y1="432.17" x2="593.00" y2="464.5" stroke="#000" stroke-width="1.00"/><path d="M593.00 467.2 L589.40 458.9 L593.00 460.9 L596.60 458.9 Z" fill="#000" stroke="#000" stroke-width="0.6"/><line x1="599.45" y1="397.14" x2="599.45" y2="464.5" stroke="#000" stroke-width="1.00"/><path d="M599.45 467.2 L595.85 458.9 L599.45 460.9 L603.05 458.9 Z" fill="#000" stroke="#000" stroke-width="0.6"/><line x1="941.45" y1="46.84" x2="941.45" y2="464.5" stroke="#000" stroke-width="1.00"/><path d="M941.45 467.2 L937.85 458.9 L941.45 460.9 L945.05 458.9 Z" fill="#000" stroke="#000" stroke-width="0.6"/><line x1="940.95" y1="186.96" x2="940.95" y2="464.5" stroke="#000" stroke-width="1.10"/><path d="M940.95 467.2 L937.35 458.9 L940.95 460.9 L944.55 458.9 Z" fill="#000" stroke="#000" stroke-width="0.6"/><line x1="938.00" y1="257.02" x2="938.00" y2="464.5" stroke="#100" stroke-width="1.50"/><path d="M938.00 467.2 L934.40 458.9 L938.00 460.9 L941.60 458.9 Z" fill="#100" stroke="#100" stroke-width="0.6"/><line x1="957.65" y1="327.08" x2="957.65" y2="464.5" stroke="#200" stroke-width="1.10"/><path d="M957.65 467.2 L954.05 458.9 L957.65 460.9 L961.25 458.9 Z" fill="#200" stroke="#200" stroke-width="0.6"/>
<circle cx="151.60" cy="151.93" r="3.6" fill="#2e8b00"/>
<circle cx="151.60" cy="116.90" r="3.6" fill="#000"/>
<circle cx="151.60" cy="186.96" r="3.6" fill="#000"/>
<circle cx="151.60" cy="221.99" r="3.6" fill="#000"/>
<circle cx="151.60" cy="257.02" r="3.6" fill="#000"/>
<circle cx="151.60" cy="292.05" r="3.6" fill="#000"/>
<circle cx="151.60" cy="327.08" r="3.6" fill="#000"/>
<circle cx="151.60" cy="362.11" r="3.6" fill="#000"/>
<circle cx="151.60" cy="397.14" r="3.6" fill="#000"/>
<circle cx="151.60" cy="432.17" r="3.6" fill="#000"/>
<circle cx="593.00" cy="432.17" r="3.6" fill="#000"/>
<circle cx="599.45" cy="397.14" r="3.6" fill="#000"/>
<circle cx="941.10" cy="81.87" r="3.6" fill="#2e8b00"/>
<circle cx="941.10" cy="46.84" r="3.6" fill="#000"/>
<circle cx="941.10" cy="186.96" r="3.6" fill="#000"/>
<circle cx="941.10" cy="151.93" r="3.6" fill="#9a060b"/>
<circle cx="941.10" cy="221.99" r="3.6" fill="#9a060b"/>
<circle cx="938.00" cy="292.05" r="3.6" fill="#9a060b"/>
<circle cx="938.00" cy="257.02" r="3.6" fill="#000"/>
<circle cx="938.00" cy="362.11" r="3.6" fill="#000"/>
<circle cx="957.65" cy="362.11" r="3.6" fill="#9a060b"/>
<circle cx="957.65" cy="327.08" r="3.6" fill="#000"/>
</g><g>
<text x="152.25" y="114.20" font-size="11.6" fill="#000" stroke="#000" stroke-width="0.25" textLength="183.1" lengthAdjust="spacingAndGlyphs">GPS 1: specified as UAVCAN1-124</text>
<text x="152.25" y="184.20" font-size="11.6" fill="#000" stroke="#000" stroke-width="0.25" textLength="86.6" lengthAdjust="spacingAndGlyphs">Frame: QUAD/X</text>
<text x="152.25" y="219.20" font-size="11.6" fill="#000" stroke="#000" stroke-width="0.25" textLength="52.4" lengthAdjust="spacingAndGlyphs">New rally</text>
<text x="152.25" y="254.20" font-size="11.6" fill="#000" stroke="#000" stroke-width="0.25" textLength="69.1" lengthAdjust="spacingAndGlyphs">New mission</text>
<text x="152.25" y="290.20" font-size="11.6" fill="#000" stroke="#000" stroke-width="0.25" textLength="99.3" lengthAdjust="spacingAndGlyphs">RC Protocol: SBUS</text>
<text x="152.25" y="325.20" font-size="11.6" fill="#000" stroke="#000" stroke-width="0.25" textLength="162.6" lengthAdjust="spacingAndGlyphs">Param space used: 1317/5376</text>
<text x="152.25" y="360.20" font-size="11.6" fill="#000" stroke="#000" stroke-width="0.25" textLength="243.1" lengthAdjust="spacingAndGlyphs">CubeOrange 002B0021 34395106 35333839</text>
<text x="152.25" y="395.20" font-size="11.6" fill="#000" stroke="#000" stroke-width="0.25" textLength="104.1" lengthAdjust="spacingAndGlyphs">ChibiOS: 08877972</text>
<text x="152.25" y="430.20" font-size="11.6" fill="#000" stroke="#000" stroke-width="0.25" textLength="201.6" lengthAdjust="spacingAndGlyphs">ArduCopter V4.1.0-beta3 (609a65e4)</text>
<text font-size="11.6" fill="#2e8b00" stroke="#2e8b00" stroke-width="0.2" text-anchor="middle"><tspan x="174.50" y="135.40" textLength="31.2" lengthAdjust="spacingAndGlyphs">Loiter</tspan><tspan x="174.50" y="149.20" textLength="43.0" lengthAdjust="spacingAndGlyphs">by radio</tspan></text>
<text x="593.65" y="430.20" font-size="11.6" fill="#000" stroke="#000" stroke-width="0.25" textLength="142.8" lengthAdjust="spacingAndGlyphs">Pilot switched to Source 2</text>
<text x="600.40" y="395.20" font-size="11.6" fill="#000" stroke="#000" stroke-width="0.25" textLength="125.6" lengthAdjust="spacingAndGlyphs">EKFPosSource MIDDLE</text>
<text x="941.55" y="44.20" font-size="11.6" fill="#000" stroke="#000" stroke-width="0.25" textLength="202.1" lengthAdjust="spacingAndGlyphs">EKF Failsafe: changed to LAND Mode</text>
<text font-size="11.6" fill="#2e8b00" stroke="#2e8b00" stroke-width="0.2" text-anchor="middle"><tspan x="968.30" y="65.40" textLength="25.8" lengthAdjust="spacingAndGlyphs">Land</tspan><tspan x="968.30" y="79.20" textLength="51.8" lengthAdjust="spacingAndGlyphs">by EKF FS</tspan></text>
<text x="941.55" y="149.20" font-size="11.6" fill="#9a060b" stroke="#9a060b" stroke-width="0.25" textLength="121.6" lengthAdjust="spacingAndGlyphs">FS-EKF-INAV:Detected</text>
<text x="941.55" y="184.20" font-size="11.6" fill="#000" stroke="#000" stroke-width="0.25" textLength="69.1" lengthAdjust="spacingAndGlyphs">EKF variance</text>
<text x="941.55" y="219.20" font-size="11.6" fill="#9a060b" stroke="#9a060b" stroke-width="0.25" textLength="184.6" lengthAdjust="spacingAndGlyphs">EKF-Check:Bad Variance detected</text>
<text x="938.95" y="254.20" font-size="11.6" fill="#000" stroke="#000" stroke-width="0.25" textLength="125.1" lengthAdjust="spacingAndGlyphs">EKF primary changed:1</text>
<text x="938.95" y="289.20" font-size="11.6" fill="#9a060b" stroke="#9a060b" stroke-width="0.25" textLength="137.6" lengthAdjust="spacingAndGlyphs">EKF primary:Failed to init</text>
<text x="958.60" y="324.20" font-size="11.6" fill="#000" stroke="#000" stroke-width="0.25" textLength="125.1" lengthAdjust="spacingAndGlyphs">EKF primary changed:0</text>
<text x="958.60" y="359.20" font-size="11.6" fill="#9a060b" stroke="#9a060b" stroke-width="0.25" textLength="151.6" lengthAdjust="spacingAndGlyphs">EKF primary:Everything OK!</text>
<text x="938.95" y="359.20" font-size="11.6" fill="#000" stroke="#000" stroke-width="0.25" textLength="100.6" lengthAdjust="spacingAndGlyphs">EKF3 lane switch 1</text>
</g>
<g font-size="10" text-anchor="end">
<text x="49.2" y="459.08" fill="#dcab16">-0.4</text>
<text x="49.2" y="397.44" fill="#dcab16">-0.35</text>
<text x="49.2" y="335.80" fill="#dcab16">-0.3</text>
<text x="49.2" y="274.16" fill="#dcab16">-0.25</text>
<text x="49.2" y="212.52" fill="#dcab16">-0.2</text>
<text x="49.2" y="150.88" fill="#dcab16">-0.15</text>
<text x="49.2" y="89.24" fill="#dcab16">-0.1</text>
<text x="49.2" y="27.60" fill="#dcab16">-0.05</text>
<text x="110" y="103.25" fill="#2454d7">0.025</text>
<text x="110" y="190.75" fill="#2454d7">0</text>
<text x="110" y="278.25" fill="#2454d7">-0.025</text>
<text x="110" y="365.75" fill="#2454d7">-0.05</text>
<text x="110" y="453.25" fill="#2454d7">-0.075</text>
</g>
<g font-size="11.3" text-anchor="middle" fill="#000" stroke="#000" stroke-width="0.2">
<text x="338.7" y="481" textLength="37" lengthAdjust="spacingAndGlyphs">110.00</text>
<text x="661.2" y="481" textLength="37" lengthAdjust="spacingAndGlyphs">120.00</text>
<text x="983.7" y="481" textLength="37" lengthAdjust="spacingAndGlyphs">130.00</text>
<text x="1306.2" y="481" textLength="37" lengthAdjust="spacingAndGlyphs">140.00</text>
<text x="743.6" y="497" font-size="12" textLength="35.6" lengthAdjust="spacingAndGlyphs">Time s</text>
</g>
<text font-size="10.3" fill="#dcab16" text-anchor="middle" textLength="58" lengthAdjust="spacingAndGlyphs" transform="translate(14.8,239) rotate(-90)">XKF3.IPN [m]</text>
<text font-size="10.3" fill="#2454d7" text-anchor="middle" textLength="58" lengthAdjust="spacingAndGlyphs" transform="translate(70.8,239) rotate(-90)">XKF3.IPE [m]</text>
</svg></body></html>
